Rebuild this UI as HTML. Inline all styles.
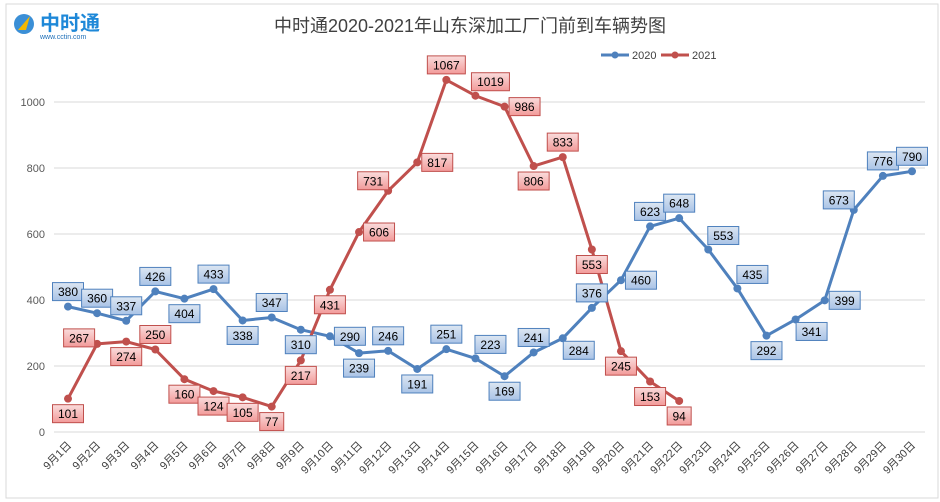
<!DOCTYPE html>
<html><head><meta charset="utf-8"><style>
body{margin:0;background:#fff}
svg{display:block;font-family:"Liberation Sans","Noto Sans CJK SC",sans-serif}
</style></head><body>
<svg width="940" height="502" viewBox="0 0 940 502">
<defs>
<linearGradient id="gb" x1="0" y1="0" x2="0" y2="1"><stop offset="0" stop-color="#dce6f2"/><stop offset="1" stop-color="#a9c3e6"/></linearGradient>
<linearGradient id="gr" x1="0" y1="0" x2="0" y2="1"><stop offset="0" stop-color="#fadcdc"/><stop offset="1" stop-color="#f29a99"/></linearGradient>
</defs>
<rect x="6" y="4" width="932" height="494" fill="#fff" stroke="#d9d9d9"/>
<g>
<circle cx="24" cy="24" r="10" fill="#3b8fd6"/><path d="M18 30 L30 16 L26 30 Z" fill="#f5b800"/>
<text x="40" y="30" font-size="20" font-weight="bold" fill="#1e88d8">中时通</text>
<text x="40" y="39" font-size="7" fill="#1e6fb8">www.cctin.com</text>
</g>
<text x="470" y="32" text-anchor="middle" font-size="18" fill="#404040">中时通2020-2021年山东深加工厂门前到车辆势图</text>
<g>
<g><line x1="601" y1="55" x2="629" y2="55" stroke="#4f81bd" stroke-width="3"/><circle cx="615" cy="55" r="3.5" fill="#4f81bd"/><text x="632" y="59" font-size="11" fill="#404040">2020</text></g>
<g><line x1="661" y1="55" x2="689" y2="55" stroke="#c0504d" stroke-width="3"/><circle cx="675" cy="55" r="3.5" fill="#c0504d"/><text x="692" y="59" font-size="11" fill="#404040">2021</text></g>
</g>
<g id="grid"></g><g id="xl"></g><g id="lines"></g><g id="labels"></g>
</svg>
<script>
const categories=[];for(let i=1;i<=30;i++)categories.push('9月'+i+'日');
const s2020=[380,360,337,426,404,433,338,347,310,290,239,246,191,251,223,169,241,284,376,460,623,648,553,435,292,341,399,673,776,790];
const s2021=[101,267,274,250,160,124,105,77,217,431,606,731,817,1067,1019,986,806,833,553,245,153,94];
const yTicks=[0,200,400,600,800,1000];
const place2020=['u','u','u','u','d','u','d','u','d','r','d','u','d','u','ur','d','u','dr','u','r','u','u','ur','ur','d','dr','r','ul','u','u'];
const place2021=['d','l','d','u','d','d','d','d','d','d','r','ul','r','u','ur','r','d','u','d','d','d','d'];
const NS='http://www.w3.org/2000/svg';
const x=i=>68+i*(912-68)/29, y=v=>432-v*0.33;
const off={u:[0,-15],d:[0,15],r:[20,0],l:[-18,-6],ur:[15,-14],ul:[-15,-10],dr:[16,12]};
function mk(t,a,p){const e=document.createElementNS(NS,t);for(const k in a)e.setAttribute(k,a[k]);p.appendChild(e);return e;}
const grid=document.getElementById('grid');
yTicks.forEach(t=>{
 const l=mk('line',{x1:54,x2:925,y1:y(t),y2:y(t),stroke:'#d9d9d9'},grid);
 
 
 const tx=mk('text',{x:45,y:y(t)+4,'text-anchor':'end','font-size':11,fill:'#595959'},grid);tx.textContent=t;
 
 
});
const xl=document.getElementById('xl');
categories.forEach((c,i)=>{
 const t=mk('text',{x:x(i)+4,y:446,'text-anchor':'end','font-size':11,fill:'#404040',transform:`rotate(-45 ${x(i)+4} 446)`},xl);t.textContent=c;
 
 
});
function series(data,col,fill,pl,name){
 const g=document.getElementById('lines'),lg=document.getElementById('labels');
 const p=mk('polyline',{points:data.map((v,i)=>x(i)+','+y(v)).join(' '),fill:'none',stroke:col,'stroke-width':3,'stroke-linejoin':'round'},g);
 
 
 data.forEach((v,i)=>{
  const c=mk('circle',{cx:x(i),cy:y(v),r:4,fill:col},g);
  
  
  const o=off[pl[i]]||off.u, cx=x(i)+o[0], cy=y(v)+o[1], w=String(v).length*7+10;
  const b=mk('g',{},lg);
  
  
  mk('rect',{x:cx-w/2,y:cy-9,width:w,height:18,fill:fill,stroke:col,'stroke-width':1},b);
  const t=mk('text',{x:cx,y:cy+4.5,'text-anchor':'middle','font-size':12,fill:'#000'},b);t.textContent=v;
 });
}
series(s2020,'#4f81bd','url(#gb)',place2020,'2020');
series(s2021,'#c0504d','url(#gr)',place2021,'2021');
</script>
</body></html>
